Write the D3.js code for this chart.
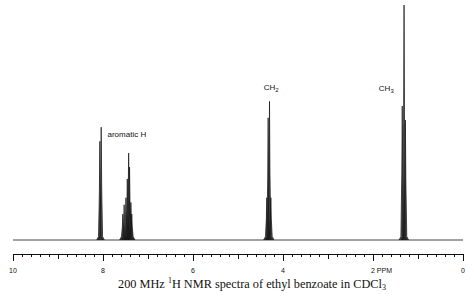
<!DOCTYPE html>
<html>
<head>
<meta charset="utf-8">
<script src="https://cdn.jsdelivr.net/npm/d3@7"></script>
<style>
  body { margin: 0; background: #fff; }
  svg { display: block; }
  .lbl { font-family: "Liberation Sans", Arial, sans-serif; font-size: 8px; fill: #111; }
  .tick-lbl { font-family: "Liberation Sans", Arial, sans-serif; font-size: 7px; fill: #111; }
  .caption { font-family: "Liberation Serif", "Times New Roman", serif; font-size: 12.3px; fill: #111; }
</style>
</head>
<body>
<div id="chart"></div>
<script>

// peak lines (ppm, relative height 0-100)
var aromaticPpm = [8.07, 8.04, 7.56, 7.53, 7.49, 7.46, 7.43, 7.41, 7.38, 7.36];
var aromaticHt  = [42, 48, 11, 15, 18, 26, 37, 31, 16, 11];
var ch2Ppm = [4.36, 4.33, 4.30, 4.27];
var ch2Ht  = [18, 52, 59, 18];
var ch3Ppm = [1.35, 1.31, 1.28];
var ch3Ht  = [57, 100, 51];

var majorTicks = [10, 8, 6, 4, 2, 0];
var tickLabels = ["10", "8", "6", "4", "2 PPM", "0"];

var W = 474, H = 297;

var svg = d3.select("#chart")
    .append("svg")
    .attr("width", W)
    .attr("height", H);

var x = d3.scaleLinear()
    .domain([10, 0])
    .range([13, 463]);

var y = d3.scaleLinear()
    .domain([0, 100])
    .range([240, 5]);

var axisY = 254;

// gather peaks
var peaks = [];
aromaticPpm.forEach(function(p, i){ peaks.push({ppm: p, h: aromaticHt[i]}); });
ch2Ppm.forEach(function(p, i){ peaks.push({ppm: p, h: ch2Ht[i]}); });
ch3Ppm.forEach(function(p, i){ peaks.push({ppm: p, h: ch3Ht[i]}); });

var line = d3.line()
    .x(function(d){ return x(d.ppm); })
    .y(function(d){ return y(d.h); });

// baseline of the spectrum
svg.append("path")
    .datum([{ppm: 10, h: 0}, {ppm: 0, h: 0}])
    .attr("d", line)
    .attr("fill", "none")
    .attr("stroke", "#444")
    .attr("stroke-width", 1);

// each line drawn as a narrow spike with a small foot
svg.selectAll(".peak")
    .data(peaks).enter()
    .append("path")
    .attr("class", "peak")
    .attr("d", function(d){
        var pts = [
            {ppm: d.ppm + 0.07, h: 0},
            {ppm: d.ppm + 0.03, h: 1.5},
            {ppm: d.ppm + 0.01, h: d.h * 0.5},
            {ppm: d.ppm, h: d.h},
            {ppm: d.ppm - 0.01, h: d.h * 0.5},
            {ppm: d.ppm - 0.03, h: 1.5},
            {ppm: d.ppm - 0.07, h: 0}
        ];
        return line(pts);
    })
    .attr("fill", "#222")
    .attr("fill-opacity", 0.75)
    .attr("stroke", "#111")
    .attr("stroke-width", 0.7);

// ppm axis
var xAxis = d3.axisBottom(x)
    .tickValues(d3.range(0, 10.01, 0.2))
    .tickSize(3)
    .tickFormat("");

var gAxis = svg.append("g")
    .attr("transform", "translate(0," + axisY + ")")
    .call(xAxis);

gAxis.select(".domain")
    .attr("d", "M" + x(10) + ",0.5H" + x(0))
    .attr("stroke", "#111")
    .attr("stroke-width", 1.2);

gAxis.selectAll(".tick line")
    .attr("stroke", "#111")
    .attr("y2", function(d){
        var r = Math.round(d * 10) / 10;
        if (r % 2 === 0) return 7;
        if (r % 1 === 0) return 5;
        return 3;
    });

svg.selectAll(".tick-lbl")
    .data(majorTicks).enter()
    .append("text")
    .attr("class", "tick-lbl")
    .attr("x", function(d){ return x(d); })
    .attr("y", 273)
    .attr("text-anchor", function(d, i){ return i === 4 ? "start" : "middle"; })
    .attr("dx", function(d, i){ return i === 4 ? -2 : 0; })
    .text(function(d, i){ return tickLabels[i]; });

// peak labels
svg.append("text")
    .attr("class", "lbl")
    .attr("x", x(7.9))
    .attr("y", 137)
    .text("aromatic H");

var ch2 = svg.append("text")
    .attr("class", "lbl")
    .attr("x", x(4.43))
    .attr("y", 90);
ch2.append("tspan").text("CH");
ch2.append("tspan").attr("font-size", "6px").attr("dy", 2).text("2");

var ch3 = svg.append("text")
    .attr("class", "lbl")
    .attr("x", x(1.87))
    .attr("y", 91);
ch3.append("tspan").text("CH");
ch3.append("tspan").attr("font-size", "6px").attr("dy", 2).text("3");

// caption
var cap = svg.append("text")
    .attr("class", "caption")
    .attr("x", 118)
    .attr("y", 288);
cap.append("tspan").text("200 MHz ");
cap.append("tspan").attr("font-size", "8px").attr("dy", -5).text("1");
cap.append("tspan").attr("dy", 5).text("H NMR spectra of ethyl benzoate in CDCl");
cap.append("tspan").attr("font-size", "8px").attr("dy", 2).text("3");

</script>
</body>
</html>
